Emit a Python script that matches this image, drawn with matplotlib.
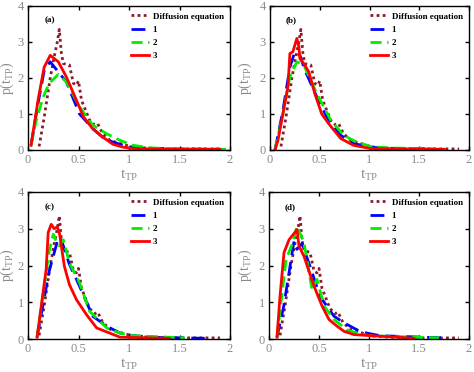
import numpy as np
import matplotlib.pyplot as plt

plt.rcParams['font.family'] = ['Liberation Serif', 'DejaVu Serif']

# diffusion equation curve (same in every panel)
diff_x = [0.11, 0.16, 0.22, 0.26, 0.29, 0.31, 0.33, 0.35, 0.41, 0.45, 0.48, 0.50, 0.53,
          0.61, 0.66, 0.69, 0.74, 0.81, 0.91, 1.04, 1.2, 1.5, 1.9]
diff_y = [0.1, 0.9, 2.0, 2.6, 3.0, 3.35, 2.7, 2.4, 2.36, 1.85, 1.8, 1.92, 1.38,
          0.83, 0.69, 0.73, 0.45, 0.27, 0.18, 0.08, 0.05, 0.03, 0.03]

# panel (a)
a1_x = [0.03, 0.1, 0.16, 0.22, 0.30, 0.38, 0.51, 0.64, 0.74, 0.84, 0.98, 1.1, 1.4, 1.9]
a1_y = [0.13, 1.3, 2.2, 2.45, 2.17, 1.89, 1.0, 0.6, 0.35, 0.22, 0.1, 0.05, 0.03, 0.02]
a2_x = [0.03, 0.08, 0.15, 0.21, 0.30, 0.38, 0.51, 0.64, 0.78, 0.91, 1.04, 1.21, 1.37, 1.7, 2.0]
a2_y = [0.13, 0.8, 1.47, 1.85, 2.1, 1.89, 1.2, 0.69, 0.45, 0.27, 0.13, 0.06, 0.04, 0.02, 0.02]
a3_x = [0.03, 0.1, 0.16, 0.22, 0.30, 0.38, 0.48, 0.55, 0.64, 0.74, 0.84, 0.94, 1.04, 1.4, 1.9]
a3_y = [0.13, 1.4, 2.3, 2.63, 2.45, 2.03, 1.38, 0.92, 0.59, 0.36, 0.16, 0.08, 0.04, 0.02, 0.02]

# panel (b)
b1_x = [0.05, 0.13, 0.2, 0.25, 0.30, 0.35, 0.47, 0.57, 0.71, 0.84, 1.01, 1.18, 1.6]
b1_y = [0.0, 1.1, 2.3, 2.73, 2.64, 2.22, 1.48, 0.92, 0.41, 0.18, 0.08, 0.04, 0.03]
b2_x = [0.05, 0.13, 0.2, 0.27, 0.34, 0.47, 0.61, 0.74, 0.87, 1.01, 1.18, 1.65]
b2_y = [0.0, 1.0, 2.03, 2.45, 2.36, 1.57, 0.83, 0.41, 0.22, 0.1, 0.06, 0.03]
b3_x = [0.05, 0.08, 0.18, 0.2, 0.23, 0.27, 0.29, 0.30, 0.34, 0.39, 0.45, 0.52, 0.59,
        0.71, 0.84, 1.01, 1.75]
b3_y = [0.0, 0.27, 1.75, 2.68, 2.73, 3.1, 2.87, 2.54, 2.4, 2.17, 1.57, 1.0, 0.73,
        0.32, 0.13, 0.04, 0.02]

# panel (c)
c1_x = [0.09, 0.21, 0.30, 0.33, 0.41, 0.51, 0.64, 0.78, 0.91, 1.04, 1.3, 1.75]
c1_y = [0.05, 1.85, 2.75, 2.7, 2.03, 1.44, 0.62, 0.35, 0.16, 0.09, 0.04, 0.02]
c2_x = [0.09, 0.21, 0.25, 0.28, 0.31, 0.35, 0.41, 0.51, 0.61, 0.78, 0.91, 1.04, 1.55]
c2_y = [0.05, 2.4, 2.85, 2.66, 2.53, 2.7, 2.07, 1.53, 0.75, 0.3, 0.16, 0.09, 0.03]
c3_x = [0.09, 0.18, 0.2, 0.23, 0.26, 0.29, 0.31, 0.36, 0.41, 0.48, 0.58, 0.68, 0.81,
        0.91, 1.4]
c3_y = [0.05, 1.9, 2.9, 3.12, 3.0, 3.05, 2.9, 1.98, 1.48, 1.07, 0.66, 0.3, 0.16,
        0.05, 0.02]

# panel (d)
d1_x = [0.08, 0.15, 0.2, 0.25, 0.28, 0.33, 0.42, 0.51, 0.65, 0.75, 0.88, 0.98, 1.11, 1.75]
d1_y = [0.05, 0.93, 1.8, 2.66, 2.44, 2.6, 1.9, 1.16, 0.62, 0.44, 0.25, 0.16, 0.09, 0.03]
d2_x = [0.08, 0.17, 0.23, 0.28, 0.35, 0.43, 0.48, 0.55, 0.65, 0.78, 0.88, 1.01, 1.7]
d2_y = [0.05, 2.16, 2.57, 3.07, 2.62, 1.35, 1.62, 0.9, 0.53, 0.25, 0.16, 0.09, 0.03]
d3_x = [0.08, 0.11, 0.15, 0.2, 0.27, 0.28, 0.30, 0.35, 0.45, 0.53, 0.6, 0.68, 0.75,
        0.85, 1.45]
d3_y = [0.05, 1.16, 2.35, 2.7, 2.94, 2.98, 2.53, 2.25, 1.44, 0.9, 0.53, 0.35, 0.21,
        0.12, 0.02]

panels = [
    ('(a)', a1_x, a1_y, a2_x, a2_y, a3_x, a3_y),
    ('(b)', b1_x, b1_y, b2_x, b2_y, b3_x, b3_y),
    ('(c)', c1_x, c1_y, c2_x, c2_y, c3_x, c3_y),
    ('(d)', d1_x, d1_y, d2_x, d2_y, d3_x, d3_y),
]

W, H = 474, 372
fig = plt.figure(figsize=(W / 100, H / 100), dpi=100)
# axes boxes in pixels: left, top, right, bottom, ylabel right edge
boxes = [(28, 6, 230, 150, 16), (270, 6, 469, 150, 254),
         (28, 192, 230, 339, 16), (269, 192, 469, 339, 254)]
grey = '#8a8a8a'

for (label, x1, y1, x2, y2, x3, y3), (l, t, r, b, yl) in zip(panels, boxes):
    ax = fig.add_axes([l / W, 1 - b / H, (r - l) / W, (b - t) / H])
    ax.plot(diff_x, diff_y, color='#8b1a2a', linestyle=(0, (1, 1.2)), lw=2,
            label='Diffusion equation')
    ax.plot(x1, y1, color='#0000ff', linestyle=(0, (5, 2.5)), lw=2, label='1')
    ax.plot(x2, y2, color='#00ee00', linestyle=(0, (4, 2)), lw=2, label='2')
    ax.plot(x3, y3, color='#ff0000', linestyle='-', lw=2, label='3')
    ax.set_xlim(0, 2)
    ax.set_ylim(0, 4)
    ax.set_xticks([0, 0.5, 1, 1.5, 2])
    ax.set_xticklabels(['0', '0.5', '1', '1.5', '2'])
    ax.set_yticks([0, 1, 2, 3, 4])
    ax.tick_params(direction='in', top=True, right=True, length=3, width=1,
                   labelsize=9, labelcolor=grey, pad=3)
    for s in ax.spines.values():
        s.set_linewidth(1)
    ax.set_xlabel('t$_{\\mathregular{TP}}$', fontsize=11, color=grey, labelpad=1)
    ax.set_ylabel('p(t$_{\\mathregular{TP}}$)', fontsize=10, color=grey)
    ax.yaxis.set_label_coords(-(l - yl) / (r - l), 0.5)
    ax.text(0.08, 0.9, label, transform=ax.transAxes, fontsize=6.5,
            fontweight='bold', va='center')
    ax.legend(loc='upper right', frameon=False, handlelength=2,
              prop={'weight': 'bold', 'size': 6.5}, borderaxespad=0.3,
              labelspacing=0.55, handletextpad=0.4)

fig.savefig('out.png', dpi=100, facecolor='white')
